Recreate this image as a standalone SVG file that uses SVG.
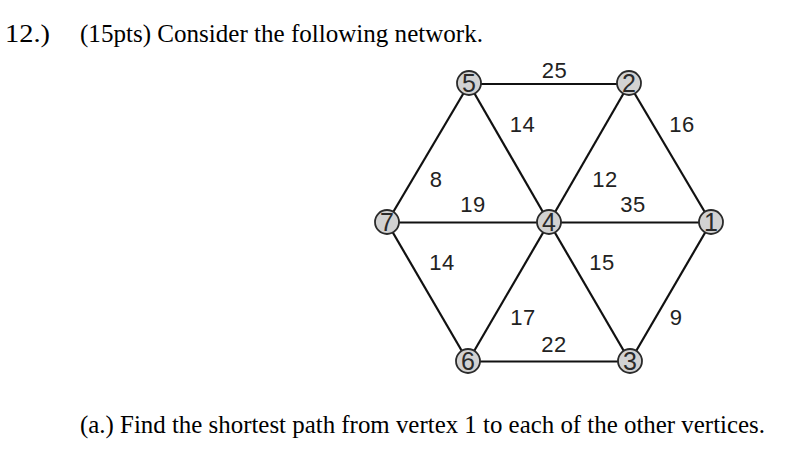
<svg xmlns="http://www.w3.org/2000/svg" width="787" height="455" viewBox="0 0 787 455">
<style>
.t{font-family:"Liberation Serif","Times New Roman",serif;font-size:25px;fill:#000}
.e{stroke:#111;stroke-width:2.2;fill:none}
.w{font-family:"Liberation Sans",Arial,sans-serif;font-size:22px;fill:#222;text-anchor:middle;letter-spacing:0.5px}
.n circle{fill:#d2d2d2;stroke:#2a2a2a;stroke-width:1.8}
.n text{font-family:"Liberation Sans",Arial,sans-serif;font-size:25px;fill:#2a2a2a;text-anchor:middle}
</style>
<rect width="787" height="455" fill="#fff"/>
<text class="t" x="5" y="42" textLength="45" lengthAdjust="spacingAndGlyphs">12.)</text>
<text class="t" x="80" y="42" textLength="403" lengthAdjust="spacingAndGlyphs">(15pts) Consider the following network.</text>
<g id="connectors">
<line class="e" x1="469" y1="84" x2="629" y2="84"/>
<line class="e" x1="469" y1="84" x2="387" y2="222.5"/>
<line class="e" x1="469" y1="84" x2="549" y2="222.5"/>
<line class="e" x1="629" y1="84" x2="549" y2="222.5"/>
<line class="e" x1="629" y1="84" x2="711" y2="222.5"/>
<line class="e" x1="387" y1="222.5" x2="711" y2="222.5"/>
<line class="e" x1="387" y1="222.5" x2="468" y2="361.5"/>
<line class="e" x1="549" y1="222.5" x2="468" y2="361.5"/>
<line class="e" x1="549" y1="222.5" x2="630" y2="361.5"/>
<line class="e" x1="711" y1="222.5" x2="630" y2="361.5"/>
<line class="e" x1="468" y1="361.5" x2="630" y2="361.5"/>
</g>
<g id="weights">
<text class="w" x="554.5" y="77.5">25</text>
<text class="w" x="522.5" y="131.5">14</text>
<text class="w" x="682" y="131.5">16</text>
<text class="w" x="436" y="186.5">8</text>
<text class="w" x="605" y="186.5">12</text>
<text class="w" x="473" y="211.5">19</text>
<text class="w" x="633" y="211.5">35</text>
<text class="w" x="442" y="269.5">14</text>
<text class="w" x="602" y="269.5">15</text>
<text class="w" x="523" y="324.5">17</text>
<text class="w" x="676" y="324.5">9</text>
<text class="w" x="554" y="351.5">22</text>
</g>
<g id="node5" class="n"><circle cx="469" cy="83" r="12"/><text x="469" y="92">5</text></g>
<g id="node2" class="n"><circle cx="629" cy="83" r="12"/><text x="629" y="92">2</text></g>
<g id="node7" class="n"><circle cx="387" cy="222" r="12"/><text x="387" y="231">7</text></g>
<g id="node4" class="n"><circle cx="549" cy="222" r="12"/><text x="549" y="231">4</text></g>
<g id="node1" class="n"><circle cx="711" cy="222" r="12"/><text x="711" y="231">1</text></g>
<g id="node6" class="n"><circle cx="468" cy="361" r="12"/><text x="468" y="370">6</text></g>
<g id="node3" class="n"><circle cx="630" cy="361" r="12"/><text x="630" y="370">3</text></g>
<text class="t" x="80" y="433" textLength="685" lengthAdjust="spacingAndGlyphs">(a.) Find the shortest path from vertex 1 to each of the other vertices.</text>
</svg>
